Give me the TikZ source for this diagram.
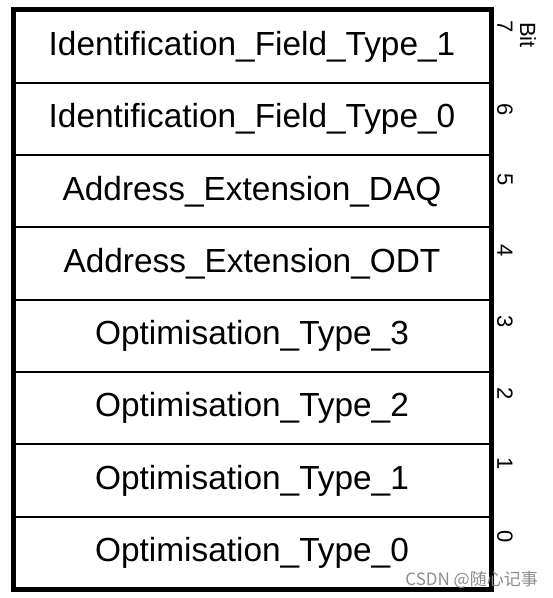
\documentclass[tikz,border=0pt]{standalone}
\usepackage{fontspec}
\setmainfont{Liberation Sans}
\newfontfamily\cjk{Noto Sans CJK SC}
\begin{document}
\begin{tikzpicture}[x=1pt,y=-1pt,
  field/.style={draw, line width=2pt, minimum width=476pt, minimum height=72.3pt,
    inner sep=0pt, font=\fontsize{33.4}{40}\selectfont, anchor=north west},
  bitnum/.style={rotate=-90, font=\fontsize{22}{26}\selectfont, inner sep=0pt}]
\useasboundingbox (0,0) rectangle (553,598);
\node[field] (r7) at (13,9.5) {Identification\_Field\_Type\_1};
\node[field] (r6) at (13,81.8) {Identification\_Field\_Type\_0};
\node[field] (r5) at (13,154.1) {Address\_Extension\_DAQ};
\node[field] (r4) at (13,226.4) {Address\_Extension\_ODT};
\node[field] (r3) at (13,298.7) {Optimisation\_Type\_3};
\node[field] (r2) at (13,371.0) {Optimisation\_Type\_2};
\node[field] (r1) at (13,443.3) {Optimisation\_Type\_1};
\node[field] (r0) at (13,515.6) {Optimisation\_Type\_0};
\draw[line width=5pt] (r7.north west) rectangle (r0.south east);
\node[bitnum] (b7) at (505,27) {7};
\node[bitnum] (b6) at (505,110) {6};
\node[bitnum] (b5) at (505,180) {5};
\node[bitnum] (b4) at (505,251) {4};
\node[bitnum] (b3) at (505,322) {3};
\node[bitnum] (b2) at (505,394) {2};
\node[bitnum] (b1) at (505,464) {1};
\node[bitnum] (b0) at (505,537) {0};
\node[bitnum] (bit) at (528,35) {Bit};
\node[text=black!45, font=\cjk\fontsize{17}{20}\selectfont, anchor=east, inner sep=0pt] (wm) at (538,580) {CSDN @随心记事};
\end{tikzpicture}
\end{document}
